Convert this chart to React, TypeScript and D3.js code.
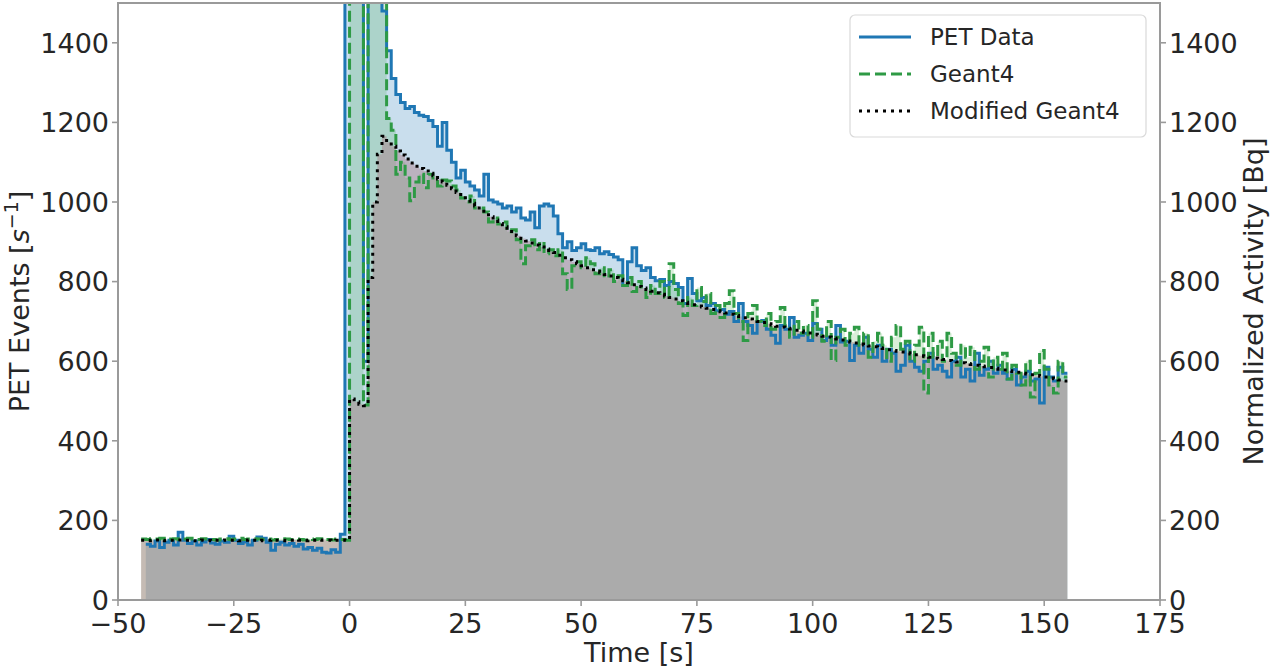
import { useEffect, useRef } from 'react';
import * as d3 from 'd3';

const WIDTH = 1270;
const HEIGHT = 669;
const margin = { top: 3, right: 110, bottom: 69, left: 118 };

// 1 s bins, first bin start given separately
const petStart = -44;
const petEvents = [
  140, 135, 148, 132, 145, 150, 138, 170, 150, 142,
  148, 138, 146, 152, 143, 140, 148, 145, 160, 150,
  142, 146, 138, 150, 158, 155, 145, 125, 140, 145,
  138, 142, 135, 140, 128, 132, 125, 130, 120, 118,
  126, 120, 165,
  2500, 2500, 2500, 2500, 600, 2500, 2500, 2500,
  1480, 1380, 1310, 1270, 1250, 1235, 1240, 1225, 1218, 1215,
  1205, 1190, 1140, 1200, 1130, 1100, 1060, 1080, 1050, 1040,
  1030, 1015, 1070, 1005, 1000, 995, 985, 990, 975, 985,
  960, 955, 975, 935, 990, 995, 990, 965, 920, 885,
  900, 878, 885, 895, 880, 878, 885, 870, 875, 868,
  862, 855, 790, 850, 885, 840, 828, 835, 810, 802,
  805, 790, 800, 795, 785, 745, 808, 770, 752, 760,
  740, 745, 727, 730, 718, 725, 700, 745, 700, 690,
  670, 700, 702, 680, 665, 645, 690, 680, 710, 660,
  665, 670, 652, 695, 680, 652, 660, 640, 690, 648,
  650, 602, 640, 620, 660, 630, 610, 640, 600, 630,
  620, 575, 590, 640, 600, 585, 575, 600, 620, 580,
  590, 575, 560, 600, 610, 560, 580, 550, 620, 565,
  580, 600, 570, 590, 570, 555, 580, 540, 560, 575,
  550, 555, 495, 585, 560, 550, 585, 570,
];

const geantStart = -45;
const geant4 = [
  153, 152, 154, 153, 155, 152, 153, 154, 152, 153,
  155, 153, 152, 154, 153, 152, 151, 153, 154, 152,
  153, 155, 152, 153, 154, 153, 152, 153, 151, 152,
  154, 153, 152, 153, 152, 151, 153, 152, 154, 153,
  152, 151, 153, 152, 150,
  2500, 2500, 2500, 490, 2500, 2500, 2500, 2500,
  1210, 1180, 1070, 1100, 1060, 1003, 1050, 1070, 1036, 1070,
  1060, 1040, 1055, 1053, 1040, 1030, 1010, 1000, 1015, 985,
  985, 975, 950, 960, 945, 950, 925, 930, 905, 845,
  890, 905, 880, 900, 870, 880, 865, 880, 820, 780,
  840, 850, 835, 860, 845, 820, 835, 810, 830, 800,
  815, 790, 810, 775, 800, 780, 760, 790, 770, 800,
  760, 845, 780, 745, 715, 760, 740, 785, 750, 770,
  720, 740, 710, 745, 777, 720, 700, 652, 720, 740,
  700, 690, 720, 680, 700, 735, 690, 660, 700, 670,
  690, 660, 752, 680, 650, 700, 602, 660, 680, 640,
  670, 685, 640, 670, 610, 650, 670, 640, 600, 660,
  690, 630, 650, 600, 640, 685, 520, 670, 610, 650,
  600, 670, 620, 590, 640, 610, 635, 580, 600, 635,
  560, 610, 580, 620, 555, 590, 570, 540, 600, 510,
  570, 627, 580, 540, 520, 600, 560,
];

const modifiedStart = -45;
const modifiedGeant4 = [
  150, 149, 150, 151, 150, 149, 150, 150, 151, 150,
  150, 149, 150, 151, 150, 149, 150, 150, 151, 150,
  150, 149, 150, 151, 150, 149, 150, 150, 151, 150,
  150, 149, 150, 151, 150, 149, 150, 150, 151, 150,
  150, 149, 150, 151, 150,
  505, 498, 492, 488, 810, 1000, 1120,
  1165, 1150, 1140, 1128, 1118, 1108, 1098, 1090, 1084, 1078,
  1072, 1066, 1058, 1050, 1042, 1033, 1024, 1015, 1005, 997,
  990, 981, 972, 963, 955, 946, 938, 930, 922, 915,
  908, 902, 897, 892, 887, 882, 878, 873, 866, 860,
  855, 850, 845, 840, 835, 830, 826, 822, 818, 814,
  810, 806, 802, 797, 792, 788, 784, 780, 776, 772,
  768, 764, 760, 756, 752, 748, 745, 742, 739, 736,
  733, 730, 727, 724, 721, 718, 715, 712, 709, 706,
  703, 700, 697, 694, 691, 688, 686, 683, 681, 678,
  676, 673, 671, 668, 666, 663, 661, 658, 656, 653,
  651, 648, 646, 643, 641, 638, 636, 634, 632, 629,
  627, 625, 623, 621, 618, 616, 614, 612, 610, 608,
  606, 604, 602, 600, 598, 596, 594, 592, 590, 588,
  586, 584, 582, 580, 578, 576, 574, 572, 570, 568,
  566, 564, 562, 560, 558, 556, 553, 550,
];

const xTicks = [-50, -25, 0, 25, 50, 75, 100, 125, 150, 175];
const yTicks = [0, 200, 400, 600, 800, 1000, 1200, 1400];
const legendLabels = ['PET Data', 'Geant4', 'Modified Geant4'];

const FONT = 'DejaVu Sans, sans-serif';
const TEXT = '#262626';
const SPINE = '#9a9a9a';

const toSteps = (start: number, vals: number[]): [number, number][] => {
  const pts: [number, number][] = vals.map((v, i) => [start + i, v]);
  pts.push([start + vals.length, vals[vals.length - 1]]);
  return pts;
};

const App = () => {
  const svgRef = useRef<SVGSVGElement>(null);

  useEffect(() => {
    if (!svgRef.current) return;
    const svg = d3.select(svgRef.current);
    svg.selectAll('*').remove();

    const x = d3.scaleLinear().domain([-50, 175]).range([margin.left, WIDTH - margin.right]);
    const y = d3.scaleLinear().domain([0, 1500]).range([HEIGHT - margin.bottom, margin.top]);

    svg.append('rect').attr('width', WIDTH).attr('height', HEIGHT).attr('fill', '#fff');

    svg.append('defs').append('clipPath').attr('id', 'plot-clip')
      .append('rect')
      .attr('x', margin.left).attr('y', margin.top)
      .attr('width', WIDTH - margin.left - margin.right)
      .attr('height', HEIGHT - margin.top - margin.bottom);

    const plot = svg.append('g').attr('clip-path', 'url(#plot-clip)');

    const area = d3.area<[number, number]>()
      .x(d => x(d[0])).y0(y(0)).y1(d => y(d[1]))
      .curve(d3.curveStepAfter);
    const line = d3.line<[number, number]>()
      .x(d => x(d[0])).y(d => y(d[1]))
      .curve(d3.curveStepAfter);

    const series = [
      { pts: toSteps(petStart, petEvents), fill: '#1f77b4', fillOp: 0.24, stroke: '#1f77b4', dash: null },
      { pts: toSteps(geantStart, geant4), fill: '#2ca02c', fillOp: 0.18, stroke: '#2e9a45', dash: '11 5' },
      { pts: toSteps(modifiedStart, modifiedGeant4), fill: '#a97480', fillOp: 0.42, stroke: '#000', dash: '3 5' },
    ];

    series.forEach(s => {
      plot.append('path').attr('d', area(s.pts)).attr('fill', s.fill).attr('fill-opacity', s.fillOp);
    });
    series.forEach(s => {
      const p = plot.append('path').attr('d', line(s.pts))
        .attr('fill', 'none').attr('stroke', s.stroke).attr('stroke-width', 3);
      if (s.dash) p.attr('stroke-dasharray', s.dash);
    });

    // spines
    const x0 = margin.left, x1 = WIDTH - margin.right, y0 = HEIGHT - margin.bottom, y1 = margin.top;
    svg.append('rect').attr('x', x0).attr('y', y1).attr('width', x1 - x0).attr('height', y0 - y1)
      .attr('fill', 'none').attr('stroke', SPINE).attr('stroke-width', 2);

    // x axis
    const xg = svg.append('g');
    xTicks.forEach(t => {
      xg.append('line').attr('x1', x(t)).attr('x2', x(t)).attr('y1', y0).attr('y2', y0 + 6)
        .attr('stroke', SPINE).attr('stroke-width', 1.6);
      xg.append('text').attr('x', x(t)).attr('y', y0 + 33).attr('text-anchor', 'middle')
        .attr('font-family', FONT).attr('font-size', 27).attr('fill', TEXT)
        .text(t < 0 ? `\u2212${Math.abs(t)}` : `${t}`);
    });

    // y axes (left and right share the same scale)
    const yg = svg.append('g');
    yTicks.forEach(t => {
      yg.append('line').attr('x1', x0 - 6).attr('x2', x0).attr('y1', y(t)).attr('y2', y(t))
        .attr('stroke', SPINE).attr('stroke-width', 1.6);
      yg.append('text').attr('x', x0 - 9).attr('y', y(t)).attr('dy', '0.36em').attr('text-anchor', 'end')
        .attr('font-family', FONT).attr('font-size', 27).attr('fill', TEXT).text(t);
      yg.append('line').attr('x1', x1).attr('x2', x1 + 6).attr('y1', y(t)).attr('y2', y(t))
        .attr('stroke', SPINE).attr('stroke-width', 1.6);
      yg.append('text').attr('x', x1 + 9).attr('y', y(t)).attr('dy', '0.36em').attr('text-anchor', 'start')
        .attr('font-family', FONT).attr('font-size', 27).attr('fill', TEXT).text(t);
    });

    // axis labels
    svg.append('text').attr('x', (x0 + x1) / 2).attr('y', 662).attr('text-anchor', 'middle')
      .attr('font-family', FONT).attr('font-size', 27).attr('fill', TEXT).text('Time [s]');

    const yl = svg.append('text').attr('transform', `translate(29,${(y0 + y1) / 2}) rotate(-90)`)
      .attr('text-anchor', 'middle').attr('font-family', FONT).attr('font-size', 27).attr('fill', TEXT);
    yl.append('tspan').text('PET Events [');
    yl.append('tspan').attr('font-style', 'italic').text('s');
    yl.append('tspan').attr('font-size', 19).attr('dy', -11).text('\u22121');
    yl.append('tspan').attr('dy', 11).text(']');

    svg.append('text').attr('transform', `translate(1263,${(y0 + y1) / 2}) rotate(-90)`)
      .attr('text-anchor', 'middle').attr('font-family', FONT).attr('font-size', 27).attr('fill', TEXT)
      .text('Normalized Activity [Bq]');

    // legend
    const lg = svg.append('g').attr('transform', 'translate(850,15)');
    lg.append('rect').attr('width', 296).attr('height', 122).attr('rx', 5)
      .attr('fill', '#fff').attr('fill-opacity', 0.8).attr('stroke', '#d9d9d9').attr('stroke-width', 1.2);
    legendLabels.forEach((label, i) => {
      const s = series[i];
      const cy = 22 + i * 37;
      const l = lg.append('line').attr('x1', 9).attr('x2', 61).attr('y1', cy).attr('y2', cy)
        .attr('stroke', s.stroke).attr('stroke-width', 3);
      if (s.dash) l.attr('stroke-dasharray', s.dash);
      lg.append('text').attr('x', 80).attr('y', cy).attr('dy', '0.36em')
        .attr('font-family', FONT).attr('font-size', 23).attr('fill', TEXT).text(label);
    });
  }, []);

  return (
    <div style={{ position: 'absolute', left: 0, top: 0 }}>
      <svg ref={svgRef} width={WIDTH} height={HEIGHT} style={{ display: 'block' }} />
    </div>
  );
};

export default App;
